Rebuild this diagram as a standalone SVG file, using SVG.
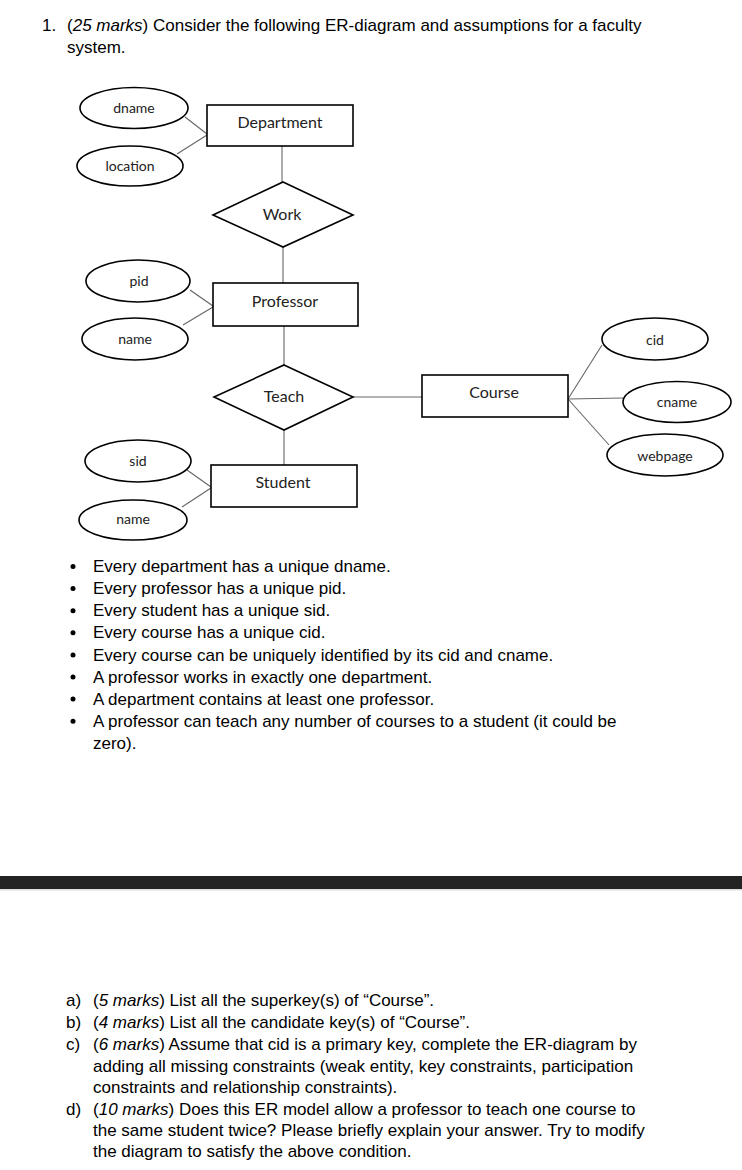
<svg xmlns="http://www.w3.org/2000/svg" width="742" height="1170" viewBox="0 0 742 1170">
<style>
.t{font-family:"Liberation Sans",Arial,sans-serif;font-size:17px;fill:#000}
.i{font-style:italic}
.shape{fill:#fff;stroke:#000;stroke-width:1.6}
.conn{stroke:#666;stroke-width:1.1;fill:none}
.en{font-family:Lato,"Open Sans",sans-serif;font-size:16px;fill:#222;text-anchor:middle}
.at{font-family:Lato,"Open Sans",sans-serif;font-size:14px;fill:#222;text-anchor:middle}
</style>
<rect width="742" height="1170" fill="#fff"/>
<text class="t" x="42" y="31">1.</text>
<text class="t" x="67" y="31">(<tspan class="i">25 marks</tspan>) Consider the following ER-diagram and assumptions for a faculty</text>
<text class="t" x="67" y="53">system.</text>

<g id="connectors">
<line class="conn" x1="185" y1="117" x2="207" y2="134"/>
<line class="conn" x1="177" y1="154" x2="207" y2="135"/>
<line class="conn" x1="282" y1="146" x2="282" y2="182"/>
<line class="conn" x1="283" y1="247" x2="283" y2="283"/>
<line class="conn" x1="190" y1="290" x2="213" y2="306"/>
<line class="conn" x1="183" y1="325" x2="213" y2="307"/>
<line class="conn" x1="284" y1="326" x2="284" y2="365"/>
<line class="conn" x1="284" y1="430" x2="284" y2="465"/>
<line class="conn" x1="187" y1="470" x2="211" y2="487"/>
<line class="conn" x1="182" y1="507" x2="211" y2="488"/>
<line class="conn" x1="353" y1="397" x2="422" y2="397"/>
<line class="conn" x1="568" y1="399" x2="602" y2="345"/>
<line class="conn" x1="568" y1="399" x2="623" y2="398"/>
<line class="conn" x1="568" y1="399" x2="609" y2="445"/>
</g>

<g id="dname"><ellipse class="shape" cx="134" cy="108" rx="54" ry="20.5"/><text class="at" x="134" y="113">dname</text></g>
<g id="location"><ellipse class="shape" cx="130" cy="166" rx="53" ry="20"/><text class="at" x="130" y="171">location</text></g>
<g id="department"><rect class="shape" x="207" y="105" width="146" height="41"/><text class="en" x="280" y="128">Department</text></g>
<g id="work"><polygon class="shape" points="283,182 353,215 283,247 213,215"/><text class="en" x="282" y="220">Work</text></g>
<g id="pid"><ellipse class="shape" cx="138" cy="281" rx="52" ry="21"/><text class="at" x="139" y="286">pid</text></g>
<g id="pname"><ellipse class="shape" cx="135" cy="339" rx="53" ry="21"/><text class="at" x="135" y="344">name</text></g>
<g id="professor"><rect class="shape" x="213" y="283" width="145" height="43"/><text class="en" x="285" y="307">Professor</text></g>
<g id="teach"><polygon class="shape" points="284,365 353,397 284,430 214,397"/><text class="en" x="284" y="402">Teach</text></g>
<g id="course"><rect class="shape" x="422" y="375" width="146" height="42"/><text class="en" x="494" y="398">Course</text></g>
<g id="cid"><ellipse class="shape" cx="655" cy="339" rx="53" ry="21"/><text class="at" x="655" y="345">cid</text></g>
<g id="cname"><ellipse class="shape" cx="677" cy="402" rx="54" ry="20.5"/><text class="at" x="677" y="407">cname</text></g>
<g id="webpage"><ellipse class="shape" cx="665" cy="455" rx="58" ry="21"/><text class="at" x="665" y="461">webpage</text></g>
<g id="sid"><ellipse class="shape" cx="138" cy="461" rx="53" ry="21"/><text class="at" x="138" y="466">sid</text></g>
<g id="sname"><ellipse class="shape" cx="133" cy="520" rx="54" ry="20"/><text class="at" x="133" y="524">name</text></g>
<g id="student"><rect class="shape" x="211" y="465" width="146" height="42"/><text class="en" x="283" y="488">Student</text></g>

<g id="assumptions">
<g fill="#000">
<circle cx="73" cy="566.5" r="2.5"/><circle cx="73" cy="588.6" r="2.5"/><circle cx="73" cy="610.7" r="2.5"/><circle cx="73" cy="632.8" r="2.5"/><circle cx="73" cy="654.9" r="2.5"/><circle cx="73" cy="677" r="2.5"/><circle cx="73" cy="699.1" r="2.5"/><circle cx="73" cy="721.2" r="2.5"/>
</g>
<text class="t" x="93" y="572">Every department has a unique dname.</text>
<text class="t" x="93" y="594">Every professor has a unique pid.</text>
<text class="t" x="93" y="616">Every student has a unique sid.</text>
<text class="t" x="93" y="638">Every course has a unique cid.</text>
<text class="t" x="93" y="661">Every course can be uniquely identified by its cid and cname.</text>
<text class="t" x="93" y="683">A professor works in exactly one department.</text>
<text class="t" x="93" y="705">A department contains at least one professor.</text>
<text class="t" x="93" y="727">A professor can teach any number of courses to a student (it could be</text>
<text class="t" x="93" y="749">zero).</text>
</g>

<rect x="0" y="876" width="742" height="13" fill="#232323"/>
<rect x="0" y="889" width="742" height="1.5" fill="#ddd"/>

<g id="questions">
<text class="t" x="66" y="1006">a)</text>
<text class="t" x="93" y="1006">(<tspan class="i">5 marks</tspan>) List all the superkey(s) of “Course”.</text>
<text class="t" x="66" y="1028">b)</text>
<text class="t" x="93" y="1028">(<tspan class="i">4 marks</tspan>) List all the candidate key(s) of “Course”.</text>
<text class="t" x="66" y="1050">c)</text>
<text class="t" x="93" y="1050">(<tspan class="i">6 marks</tspan>) Assume that cid is a primary key, complete the ER-diagram by</text>
<text class="t" x="93" y="1072">adding all missing constraints (weak entity, key constraints, participation</text>
<text class="t" x="93" y="1093">constraints and relationship constraints).</text>
<text class="t" x="66" y="1115">d)</text>
<text class="t" x="93" y="1115">(<tspan class="i">10 marks</tspan>) Does this ER model allow a professor to teach one course to</text>
<text class="t" x="93" y="1136">the same student twice? Please briefly explain your answer. Try to modify</text>
<text class="t" x="93" y="1157">the diagram to satisfy the above condition.</text>
</g>
</svg>
